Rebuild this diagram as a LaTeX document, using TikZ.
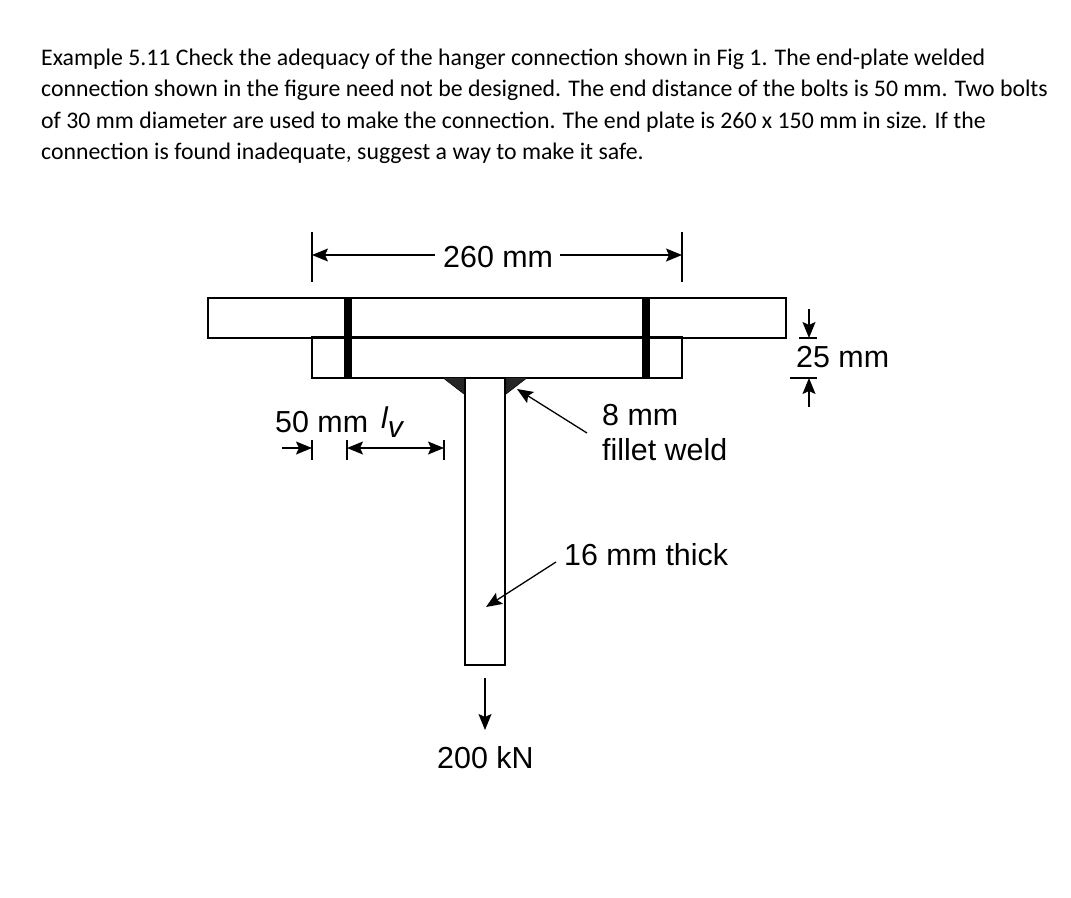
\documentclass[tikz,border=0pt]{standalone}
\usepackage{fontspec}
\setmainfont{Liberation Sans}
\newfontfamily\bodyfont{Carlito}
\usetikzlibrary{arrows.meta}

\begin{document}
\begin{tikzpicture}[x=1pt,y=-1pt]
    \tikzstyle{para}=[anchor=base west,inner sep=0pt,text=black,font=\bodyfont\fontsize{23.8}{24}\selectfont]
    \tikzstyle{dimtext}=[anchor=base west,inner sep=0pt,text=black,font=\fontsize{30.4}{31}\selectfont]
    \tikzstyle{plate}=[draw=black,line width=1.5pt,inner sep=0pt]
    \tikzstyle{bolt}=[fill=black,inner sep=0pt,minimum width=8pt,minimum height=80pt]
    \tikzstyle{weld}=[fill=black!85,draw=black,line width=0.5pt]
    \tikzstyle{tick}=[line width=1.3pt]
    \tikzstyle{dim}=[line width=1.3pt,-{Stealth[length=16pt,width=13pt,inset=3pt]}]
    \tikzstyle{dimboth}=[line width=1.3pt,{Stealth[length=16pt,width=13pt,inset=3pt]}-{Stealth[length=16pt,width=13pt,inset=3pt]}]

    \useasboundingbox[fill=white] (0,0) rectangle (1071,897);

    % problem statement
    \node[para](line1) at (41,65) {Example 5.11 Check the adequacy of the hanger connection shown in Fig 1. The end-plate welded};
    \node[para](line2) at (41,96) {connection shown in the figure need not be designed. The end distance of the bolts is 50 mm. Two bolts};
    \node[para](line3) at (41,128) {of 30 mm diameter are used to make the connection. The end plate is 260 x 150 mm in size. If the};
    \node[para](line4) at (41,159) {connection is found inadequate, suggest a way to make it safe.};

    % plates
    \node[plate,minimum width=578pt,minimum height=40pt](flange) at (497,318) {};
    \node[plate,minimum width=370pt,minimum height=40pt](endplate) at (497,358) {};
    \node[plate,minimum width=40pt,minimum height=287pt](hanger) at (485,521.5) {};
    \draw[line width=2.5pt] (endplate.north west) -- (endplate.north east);

    % bolts
    \node[bolt](leftbolt) at (348,338) {};
    \node[bolt](rightbolt) at (646,338) {};

    % welds
    \draw[weld] (hanger.north west) -- ++(-22,0) -- ++(22,17) -- cycle;
    \draw[weld] (hanger.north east) -- ++(22,0) -- ++(-22,17) -- cycle;

    % 260 mm
    \node[dimtext](widthlabel) at (443,267) {260 mm};
    \coordinate (widthleft) at (312,255);
    \coordinate (widthright) at (682,255);
    \coordinate (widthleftend) at (435,255);
    \coordinate (widthrightend) at (560,255);
    \draw[tick] (312,232) -- (312,282);
    \draw[tick] (682,232) -- (682,282);
    \draw[dim] (widthleftend) -- (widthleft);
    \draw[dim] (widthrightend) -- (widthright);

    % 50 mm and lv
    \node[dimtext](endlabel) at (275,432) {50 mm};
    \node[dimtext,font=\fontsize{30}{31}\selectfont\itshape](lvlabel) at (381,428) {l\raisebox{-9pt}{v}};
    \coordinate (endstart) at (282,448);
    \coordinate (endstop) at (312,448);
    \coordinate (lvleft) at (347,448);
    \coordinate (lvright) at (444,448);
    \draw[tick] (312,440) -- (312,460);
    \draw[tick] (347,440) -- (347,460);
    \draw[tick] (444,440) -- (444,460);
    \draw[dim] (endstart) -- (endstop);
    \draw[dimboth] (lvleft) -- (lvright);

    % 25 mm
    \node[dimtext](thicklabel) at (796,367) {25 mm};
    \coordinate (topstart) at (809,309);
    \coordinate (topstop) at (809,338);
    \coordinate (botstart) at (809,407);
    \coordinate (botstop) at (809,378);
    \draw[tick] (799,338) -- (817,338);
    \draw[tick] (790,378) -- (817,378);
    \draw[dim] (topstart) -- (topstop);
    \draw[dim] (botstart) -- (botstop);

    % weld note
    \node[dimtext](weldsize) at (602,425) {8 mm};
    \node[dimtext](weldtype) at (602,460) {fillet weld};
    \coordinate (weldstart) at (587,433);
    \coordinate (weldtip) at (517,389);
    \draw[dim] (weldstart) -- (weldtip);

    % hanger note
    \node[dimtext](hangerlabel) at (564,565) {16 mm thick};
    \coordinate (hangerstart) at (556,562);
    \coordinate (hangertip) at (486,607);
    \draw[dim] (hangerstart) -- (hangertip);

    % load
    \node[dimtext](loadlabel) at (437,768) {200 kN};
    \coordinate (loadstart) at (485,678);
    \coordinate (loadtip) at (485,730);
    \draw[dim] (loadstart) -- (loadtip);

\end{tikzpicture}
\end{document}
